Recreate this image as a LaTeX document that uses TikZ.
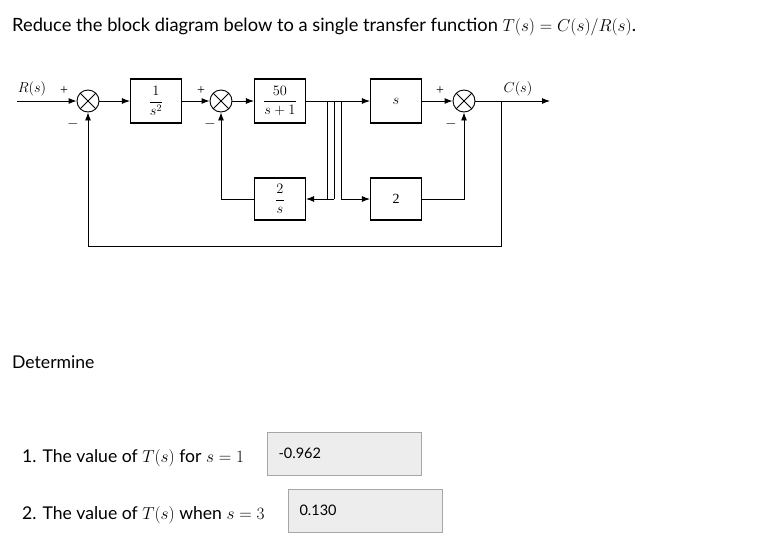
\documentclass[tikz,border=0pt]{standalone}
\usepackage{fontspec}
\setmainfont{Lato}
\newfontfamily\dfont{Liberation Serif}
\usetikzlibrary{arrows.meta}
\begin{document}
\begin{tikzpicture}[x=1pt,y=-1pt,
  blk/.style={draw,line width=1.1pt,minimum width=51pt,minimum height=44pt,inner sep=0pt,font=\dfont\fontsize{14}{15}\selectfont},
  sumj/.style={draw,circle,line width=0.9pt,minimum size=22pt,inner sep=0pt,path picture={\draw[line width=0.9pt] (path picture bounding box.north west)--(path picture bounding box.south east) (path picture bounding box.north east)--(path picture bounding box.south west);}},
  sig/.style={line width=0.9pt},
  arr/.style={sig,-{Latex[length=8pt,width=6pt]}},
  sg/.style={font=\dfont\fontsize{14}{14}\selectfont,inner sep=1pt},
  ans/.style={draw=black!35,fill=black!7,minimum width=154pt,minimum height=43pt,anchor=north west,inner sep=0pt},
  txt/.style={font=\fontsize{17.6}{20}\selectfont,anchor=west,inner sep=0pt}]
\useasboundingbox (0,0) rectangle (765,555);
\node[txt,font=\fontsize{18.3}{20}\selectfont] (title) at (12,27) {Reduce the block diagram below to a single transfer function $T(s)=C(s)/R(s)$.};
\coordinate (rin) at (17,101);
\node[sumj] (s1) at (88,101) {};
\node[blk] (g1) at (156,101) {$\displaystyle\frac{1}{s^2}$};
\node[sumj] (s2) at (221,101) {};
\node[blk] (g2) at (280,101) {$\displaystyle\frac{50}{s+1}$};
\node[blk] (g3) at (396,101) {$s$};
\node[sumj] (s3) at (464,101) {};
\node[blk,minimum height=42pt] (h1) at (280,199) {$\displaystyle\frac{2}{s}$};
\node[blk,minimum height=42pt] (h2) at (396,199) {2};
\coordinate (out) at (550,101);
\coordinate (b1) at (334,101);
\coordinate (b2) at (341,101);
\coordinate (co) at (501,101);
\draw[arr] (rin) -- (s1);
\draw[arr] (s1) -- (g1);
\draw[arr] (g1) -- (s2);
\draw[arr] (s2) -- (g2);
\draw[arr] (g2) -- (g3);
\draw[arr] (g3) -- (s3);
\draw[arr] (s3) -- (out);
\draw[sig] (b1) -- (b1|-h1) coordinate (b1d);
\draw[arr] (b1d) -- (h1);
\draw[sig] (327,101) -- (327,199) -- (b1d);
\draw[sig] (b2) -- (b2|-h2) coordinate (b2d);
\draw[arr] (b2d) -- (h2);
\draw[arr] (h1) -| (s2);
\draw[arr] (h2) -| (s3);
\draw[arr] (co) -- (501,246) -| (s1);
\node[sg,anchor=south] at (32,97) {$R(s)$};
\node[sg,anchor=south] at (518,97) {$C(s)$};
\node[sg] at (64,91) {+};
\node[sg] at (73,124) {$-$};
\node[sg] at (201,91) {+};
\node[sg] at (210,124) {$-$};
\node[sg] at (440,91) {+};
\node[sg] at (451,124) {$-$};
\node[txt] (det) at (12,362) {Determine};
\node[txt] (q1) at (22,458) {1. The value of $T(s)$ for $s=1$};
\node[ans] (a1) at (267,432) {};
\node[font=\fontsize{14.5}{16}\selectfont,anchor=west] at (275,453) {-0.962};
\node[txt] (q2) at (22,515) {2. The value of $T(s)$ when $s=3$};
\node[ans] (a2) at (288,489) {};
\node[font=\fontsize{14.5}{16}\selectfont,anchor=west] at (296,510) {0.130};
\end{tikzpicture}
\end{document}
